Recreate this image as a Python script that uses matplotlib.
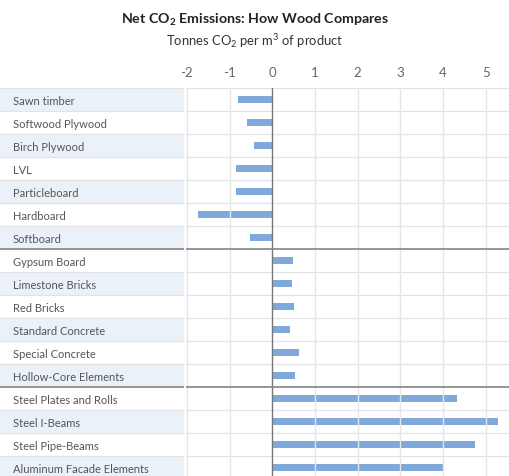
import matplotlib
matplotlib.use("Agg")
import matplotlib.pyplot as plt
import numpy as np

plt.rcParams['font.family'] = ['Lato', 'DejaVu Sans']
plt.rcParams['mathtext.fontset'] = 'custom'
plt.rcParams['mathtext.rm'] = 'Lato'
plt.rcParams['mathtext.bf'] = 'Lato:bold'

# data
products = ["Sawn timber", "Softwood Plywood", "Birch Plywood", "LVL", "Particleboard",
             "Hardboard", "Softboard", "Gypsum Board", "Limestone Bricks", "Red Bricks",
             "Standard Concrete", "Special Concrete", "Hollow-Core Elements",
             "Steel Plates and Rolls", "Steel I-Beams", "Steel Pipe-Beams",
             "Aluminum Facade Elements"]
emissions = [-0.81, -0.58, -0.42, -0.84, -0.86, -1.74, -0.51,
             0.49, 0.47, 0.51, 0.42, 0.63, 0.53,
             4.32, 5.28, 4.76, 4.00]
group_ends = [6, 12]   # separator after these rows
ticks = [-2, -1, 0, 1, 2, 3, 4, 5]

W, H = 510, 477
fig = plt.figure(figsize=(W / 100, H / 100), dpi=100)

top_px, row_px = 89, 23
ax_h = (H - top_px) / H
lab_w = 184 / W
plot_l = 186 / W

axl = fig.add_axes([0, 0, lab_w, ax_h])
ax = fig.add_axes([plot_l, 0, 1 - plot_l, ax_h])

n = len(products)
y = np.arange(n)
ylim = (-0.5 + (H - top_px) / row_px, -0.5)

# label column
for i, name in enumerate(products):
    if i % 2 == 0:
        axl.axhspan(i - 0.5, i + 0.5, color="#eaf1f9", lw=0, zorder=0)
    axl.text(0.068, i + 0.05, name, fontsize=8.0, color="#555555", va="center", ha="left",
             transform=axl.get_yaxis_transform())
axl.set_xlim(0, 1)
axl.set_ylim(*ylim)
axl.axis("off")

# bars
ax.barh(y, emissions, height=0.27, color="#80a8db", zorder=1)
ax.set_xlim(-2.02, 5.57)
ax.set_ylim(*ylim)
for t in ticks:
    if t != 0:
        ax.axvline(t, color="#e6e6e6", lw=1.0, zorder=2)
ax.axvline(0, color="#777777", lw=1.0, zorder=3)
ax.set_xticks(ticks)
ax.set_xticklabels([str(t) for t in ticks])
ax.xaxis.tick_top()
ax.tick_params(axis="x", length=0, pad=7, labelsize=9.5, labelcolor="#666666")
ax.set_yticks([])
for s in ax.spines.values():
    s.set_visible(False)

# row lines spanning whole figure
for a in (axl, ax):
    for i in range(n + 1):
        b = i - 0.5
        if i - 1 in group_ends:
            a.axhline(b, color="#8c8c8c", lw=1.3, zorder=4)
        else:
            a.axhline(b, color="#e3e3e3", lw=0.9, zorder=0.5)

fig.text(0.5, 1 - 20 / H, r"Net CO$_\mathbf{2}$ Emissions: How Wood Compares",
         ha="center", va="center", fontsize=10.2, fontweight="bold", color="#222222")
fig.text(0.5, 1 - 41 / H, r"Tonnes CO$_2$ per m$^3$ of product",
         ha="center", va="center", fontsize=9.4, color="#333333")

fig.savefig("out.png", dpi=100)
